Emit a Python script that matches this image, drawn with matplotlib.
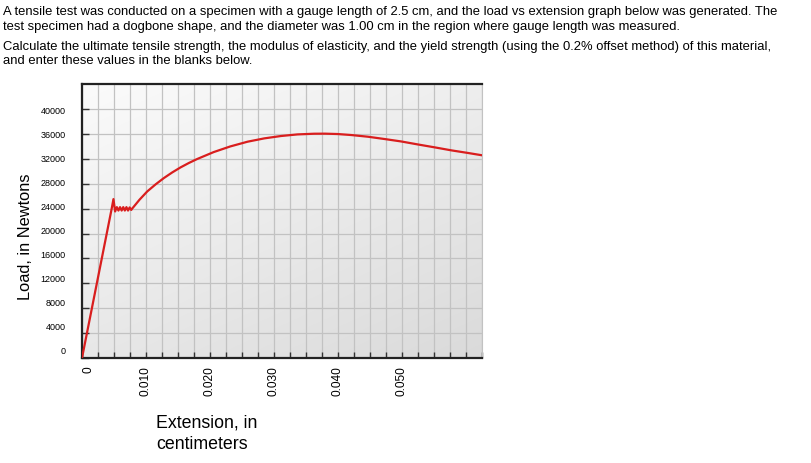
import numpy as np
import matplotlib
matplotlib.use("Agg")
import matplotlib.pyplot as plt
from matplotlib.ticker import MultipleLocator
from matplotlib.transforms import ScaledTranslation

plt.rcParams['font.family'] = ['Liberation Sans', 'DejaVu Sans']

# load vs extension curve
extension = [0.0, 0.00466, 0.00492, 0.00518,
             0.00545, 0.0057, 0.00595, 0.0062, 0.00645, 0.0067, 0.00695, 0.0072, 0.00745, 0.0077,
             0.0078, 0.0090, 0.0102, 0.0115, 0.0128, 0.0141, 0.0154, 0.0167, 0.0180,
             0.0206, 0.0232, 0.0259, 0.0285, 0.0311, 0.0337, 0.0363, 0.0380,
             0.0400, 0.0421, 0.0447, 0.0473, 0.0499, 0.0525, 0.0552, 0.0578, 0.0604, 0.0627]
load = [0, 24090, 25540, 23550,
        24250, 23700, 24250, 23700, 24250, 23700, 24250, 23700, 24200, 23800,
        23950, 25450, 26770, 27900, 28920, 29820, 30630, 31340, 31980,
        33100, 34010, 34770, 35300, 35680, 35940, 36050, 36060,
        36000, 35840, 35570, 35200, 34810, 34330, 33850, 33370, 32950, 32560]

x_ticks = [0, 0.01, 0.02, 0.03, 0.04, 0.05]
x_labels = ['0', '0.010', '0.020', '0.030', '0.040', '0.050']
y_ticks = list(range(0, 40001, 4000))
y_labels = [str(v) for v in y_ticks]

question = ("A tensile test was conducted on a specimen with a gauge length of 2.5 cm, and the load vs extension graph below was generated. The\n"
            "test specimen had a dogbone shape, and the diameter was 1.00 cm in the region where gauge length was measured.")
question2 = ("Calculate the ultimate tensile strength, the modulus of elasticity, and the yield strength (using the 0.2% offset method) of this material,\n"
             "and enter these values in the blanks below.")

fig = plt.figure(figsize=(8.11, 4.63), dpi=100)
fig.text(0.004, 0.986, question, ha='left', va='top', fontsize=9.4, linespacing=1.3)
fig.text(0.004, 0.912, question2, ha='left', va='top', fontsize=9.4, linespacing=1.3)

ax = fig.add_axes([0.1011, 0.2268, 0.4928, 0.5912])

# light grey gradient background, white at top left
u, v = np.meshgrid(np.linspace(0, 1, 200), np.linspace(0, 1, 200))
shade = 0.985 - 0.13 * (0.4 * u + 0.6 * v)
bg = np.dstack([shade, shade, shade])
ax.imshow(bg, extent=[0, 1, 0, 1], transform=ax.transAxes,
          aspect='auto', zorder=0, interpolation='bilinear')

ax.plot(extension, load, color='#d91e1e', lw=1.6, zorder=3)

ax.set_xlim(0, 0.0625)
ax.set_ylim(0, 44000)
ax.set_xticks(x_ticks)
ax.set_xticklabels(x_labels, rotation=90, fontsize=8.6)
ax.xaxis.set_minor_locator(MultipleLocator(0.0025))
ax.set_yticks(y_ticks)
ax.set_yticklabels(y_labels, fontsize=6.5)
ax.grid(True, which='both', color='#c2c2c2', lw=0.9, zorder=1)
ax.set_axisbelow(True)
ax.tick_params(axis='x', which='both', direction='in', length=4, width=1, color='#333333', pad=6)
ax.tick_params(axis='y', which='both', direction='in', length=5, width=1, color='#333333', pad=12)
for side in ['left', 'bottom', 'top']:
    ax.spines[side].set_color('#222222')
    ax.spines[side].set_linewidth(1.6)
ax.spines['right'].set_color('#c2c2c2')

# the original tick labels sit a little off their grid lines
for i, lab in enumerate(ax.get_yticklabels()):
    dy = (7 - 0.82 * i) / 100
    lab.set_transform(lab.get_transform() + ScaledTranslation(0, dy, fig.dpi_scale_trans))
lab0 = ax.get_xticklabels()[0]
lab0.set_transform(lab0.get_transform() + ScaledTranslation(0.07, 0, fig.dpi_scale_trans))

fig.text(0.032, 0.488, 'Load, in Newtons', rotation=90, ha='center', va='center', fontsize=11.8)
fig.text(0.1925, 0.0626, 'Extension, in\ncentimeters', ha='left', va='center', fontsize=12.8, linespacing=1.35)

fig.savefig('out.png', dpi=100)
